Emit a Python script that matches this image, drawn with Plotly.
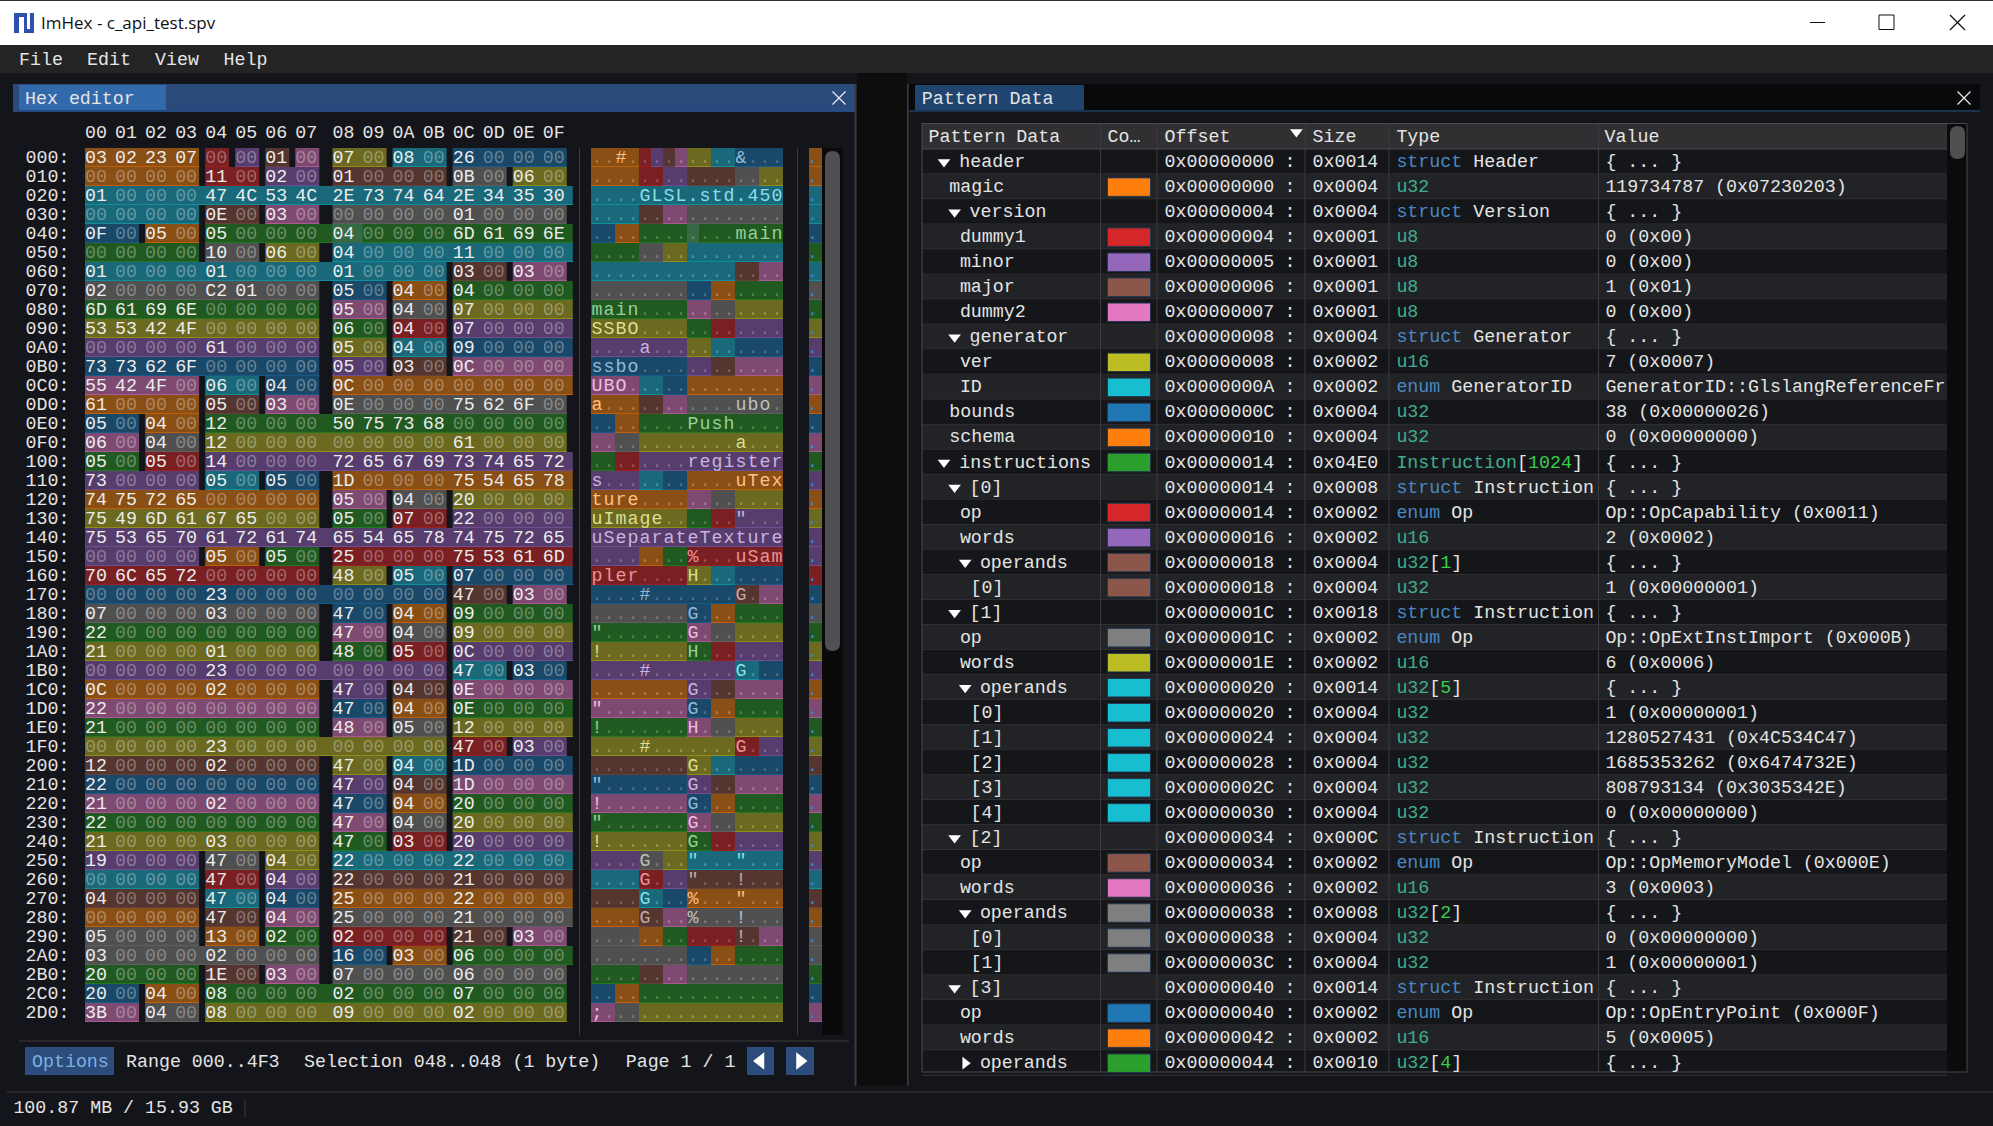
import plotly.graph_objects as go

# hex editor contents, one string per row
hex_rows = [
    "03 02 23 07 00 00 01 00 07 00 08 00 26 00 00 00",
    "00 00 00 00 11 00 02 00 01 00 00 00 0B 00 06 00",
    "01 00 00 00 47 4C 53 4C 2E 73 74 64 2E 34 35 30",
    "00 00 00 00 0E 00 03 00 00 00 00 00 01 00 00 00",
    "0F 00 05 00 05 00 00 00 04 00 00 00 6D 61 69 6E",
    "00 00 00 00 10 00 06 00 04 00 00 00 11 00 00 00",
    "01 00 00 00 01 00 00 00 01 00 00 00 03 00 03 00",
    "02 00 00 00 C2 01 00 00 05 00 04 00 04 00 00 00",
    "6D 61 69 6E 00 00 00 00 05 00 04 00 07 00 00 00",
    "53 53 42 4F 00 00 00 00 06 00 04 00 07 00 00 00",
    "00 00 00 00 61 00 00 00 05 00 04 00 09 00 00 00",
    "73 73 62 6F 00 00 00 00 05 00 03 00 0C 00 00 00",
    "55 42 4F 00 06 00 04 00 0C 00 00 00 00 00 00 00",
    "61 00 00 00 05 00 03 00 0E 00 00 00 75 62 6F 00",
    "05 00 04 00 12 00 00 00 50 75 73 68 00 00 00 00",
    "06 00 04 00 12 00 00 00 00 00 00 00 61 00 00 00",
    "05 00 05 00 14 00 00 00 72 65 67 69 73 74 65 72",
    "73 00 00 00 05 00 05 00 1D 00 00 00 75 54 65 78",
    "74 75 72 65 00 00 00 00 05 00 04 00 20 00 00 00",
    "75 49 6D 61 67 65 00 00 05 00 07 00 22 00 00 00",
    "75 53 65 70 61 72 61 74 65 54 65 78 74 75 72 65",
    "00 00 00 00 05 00 05 00 25 00 00 00 75 53 61 6D",
    "70 6C 65 72 00 00 00 00 48 00 05 00 07 00 00 00",
    "00 00 00 00 23 00 00 00 00 00 00 00 47 00 03 00",
    "07 00 00 00 03 00 00 00 47 00 04 00 09 00 00 00",
    "22 00 00 00 00 00 00 00 47 00 04 00 09 00 00 00",
    "21 00 00 00 01 00 00 00 48 00 05 00 0C 00 00 00",
    "00 00 00 00 23 00 00 00 00 00 00 00 47 00 03 00",
    "0C 00 00 00 02 00 00 00 47 00 04 00 0E 00 00 00",
    "22 00 00 00 00 00 00 00 47 00 04 00 0E 00 00 00",
    "21 00 00 00 00 00 00 00 48 00 05 00 12 00 00 00",
    "00 00 00 00 23 00 00 00 00 00 00 00 47 00 03 00",
    "12 00 00 00 02 00 00 00 47 00 04 00 1D 00 00 00",
    "22 00 00 00 00 00 00 00 47 00 04 00 1D 00 00 00",
    "21 00 00 00 02 00 00 00 47 00 04 00 20 00 00 00",
    "22 00 00 00 00 00 00 00 47 00 04 00 20 00 00 00",
    "21 00 00 00 03 00 00 00 47 00 03 00 20 00 00 00",
    "19 00 00 00 47 00 04 00 22 00 00 00 22 00 00 00",
    "00 00 00 00 47 00 04 00 22 00 00 00 21 00 00 00",
    "04 00 00 00 47 00 04 00 25 00 00 00 22 00 00 00",
    "00 00 00 00 47 00 04 00 25 00 00 00 21 00 00 00",
    "05 00 00 00 13 00 02 00 02 00 00 00 21 00 03 00",
    "03 00 00 00 02 00 00 00 16 00 03 00 06 00 00 00",
    "20 00 00 00 1E 00 03 00 07 00 00 00 06 00 00 00",
    "20 00 04 00 08 00 00 00 02 00 00 00 07 00 00 00",
    "3B 00 04 00 08 00 00 00 09 00 00 00 02 00 00 00",
]
# pattern colour of every byte, same order
color_rows = [
    "OOOORPBKYYTTLLLL", "OOOORRPPBBBBGGYY", "TTTTTTTTTTTTTTTT", "TTTTBBKKGGGGGGGG",
    "LLOONNNNNNNNNNNN", "NNNNGGYYTTTTTTTT", "TTTTTTTTTTTTBBKK", "GGGGGGGGLLOONNNN",
    "NNNNNNNNKKGGYYYY", "YYYYYYYYNNRRPPPP", "PPPPPPPPYYTTLLLL", "LLLLLLLLPPBBKKKK",
    "KKKKTTLLOOOOOOOO", "OOOOBBKKGGGGGGGG", "LLOONNNNNNNNNNNN", "KKGGYYYYYYYYYYYY",
    "NNRRPPPPPPPPPPPP", "PPPPTTLLOOOOOOOO", "OOOOOOOOKKGGYYYY", "YYYYYYYYNNRRPPPP",
    "PPPPPPPPPPPPPPPP", "PPPPOONNRRRRRRRR", "RRRRRRRRYYTTLLLL", "LLLLLLLLLLLLBBKK",
    "GGGGGGGGLLOONNNN", "NNNNNNNNKKGGYYYY", "YYYYYYYYNNRRPPPP", "PPPPPPPPPPPPTTLL",
    "OOOOOOOOPPBBKKKK", "KKKKKKKKLLOONNNN", "NNNNNNNNKKGGYYYY", "YYYYYYYYYYYYRRPP",
    "BBBBBBBBYYTTLLLL", "LLLLLLLLPPBBKKKK", "KKKKKKKKLLOONNNN", "NNNNNNNNKKGGYYYY",
    "YYYYYYYYNNRRPPPP", "PPPPGGYYTTTTTTTT", "TTTTRRPPBBBBBBBB", "BBBBTTLLOOOOOOOO",
    "OOOOBBKKGGGGGGGG", "GGGGOONNRRRRBBKK", "GGGGGGGGLLOONNNN", "NNNNBBKKGGGGGGGG",
    "LLOONNNNNNNNNNNN", "KKGGYYYYYYYYYYYY",
]
selected_byte = 0x48

dim_colors = {"O": "#8a4f14", "R": "#7a2023", "P": "#573d6e", "B": "#54352f", "K": "#7e4a72",
              "G": "#505050", "Y": "#6b6a20", "T": "#19697a", "L": "#1a4868", "N": "#215a20"}
full_colors = {"O": "#ff7f0e", "R": "#d62728", "P": "#9467bd", "B": "#8c564b", "K": "#e377c2",
               "G": "#7f7f7f", "Y": "#bcbd22", "T": "#17becf", "L": "#1f77b4", "N": "#2ca02c"}

# pattern data table
names = ["header", "magic", "version", "dummy1", "minor", "major", "dummy2", "generator", "ver", "ID",
         "bounds", "schema", "instructions", "[0]", "op", "words", "operands", "[0]", "[1]", "op",
         "words", "operands", "[0]", "[1]", "[2]", "[3]", "[4]", "[2]", "op", "words",
         "operands", "[0]", "[1]", "[3]", "op", "words", "operands"]
depths = [0, 1, 1, 2, 2, 2, 2, 1, 2, 2, 1, 1, 0, 1, 2, 2, 2, 3, 1, 2, 2, 2, 3, 3, 3, 3, 3, 1, 2, 2, 2, 3, 3, 1, 2, 2, 2]
arrows = "v.v....v....vv..v.v..v.....v..v..v..>"
swatches = ".O.RPBK.YTLON.RPB B.GYTTTTTT.BKGGG.LON".replace(" ", "")
offsets = [0x00, 0x00, 0x04, 0x04, 0x05, 0x06, 0x07, 0x08, 0x08, 0x0A, 0x0C, 0x10, 0x14, 0x14, 0x14, 0x16, 0x18, 0x18,
           0x1C, 0x1C, 0x1E, 0x20, 0x20, 0x24, 0x28, 0x2C, 0x30, 0x34, 0x34, 0x36, 0x38, 0x38, 0x3C, 0x40, 0x40, 0x42, 0x44]
sizes = [0x14, 0x04, 0x04, 0x01, 0x01, 0x01, 0x01, 0x04, 0x02, 0x02, 0x04, 0x04, 0x4E0, 0x08, 0x02, 0x02, 0x04, 0x04,
         0x18, 0x02, 0x02, 0x14, 0x04, 0x04, 0x04, 0x04, 0x04, 0x0C, 0x02, 0x02, 0x08, 0x04, 0x04, 0x14, 0x02, 0x02, 0x10]
types = ["struct Header", "u32", "struct Version", "u8", "u8", "u8", "u8", "struct Generator", "u16",
         "enum GeneratorID", "u32", "u32", "Instruction[1024]", "struct Instruction", "enum Op", "u16", "u32[1]", "u32",
         "struct Instruction", "enum Op", "u16", "u32[5]", "u32", "u32", "u32", "u32", "u32", "struct Instruction",
         "enum Op", "u16", "u32[2]", "u32", "u32", "struct Instruction", "enum Op", "u16", "u32[4]"]
values = ["{ ... }", "119734787 (0x07230203)", "{ ... }", "0 (0x00)", "0 (0x00)", "1 (0x01)", "0 (0x00)", "{ ... }",
          "7 (0x0007)", "GeneratorID::GlslangReferenceFr", "38 (0x00000026)", "0 (0x00000000)", "{ ... }", "{ ... }",
          "Op::OpCapability (0x0011)", "2 (0x0002)", "{ ... }", "1 (0x00000001)", "{ ... }",
          "Op::OpExtInstImport (0x000B)", "6 (0x0006)", "{ ... }", "1 (0x00000001)", "1280527431 (0x4C534C47)",
          "1685353262 (0x6474732E)", "808793134 (0x3035342E)", "0 (0x00000000)", "{ ... }",
          "Op::OpMemoryModel (0x000E)", "3 (0x0003)", "{ ... }", "0 (0x00000000)", "1 (0x00000001)", "{ ... }",
          "Op::OpEntryPoint (0x000F)", "5 (0x0005)", "{ ... }"]
header_labels = ["Pattern Data", "Co…", "Offset", "Size", "Type", "Value"]
menu_labels = ["File", "Edit", "View", "Help"]

W, H = 1993, 1126
MONO = "Liberation Mono"
FS = 18.3
BG = "#14151a"
LINE = "#3a3b3f"
WHITE = "#e4e4e4"


def byte_x(i):
    return 85 + 30.04 * i + (7.2 if i >= 8 else 0)


def row_top(r):
    return 148 + 19 * r


def table_y(i):
    return 161.6 + 25.03 * i


def mix(c, t, a=0.5):
    rgb = [int(c[k:k + 2], 16) for k in (1, 3, 5)]
    rgb = [round(v + (t - v) * a) for v in rgb]
    return "rgb(%d,%d,%d)" % tuple(rgb)


def runs(s):
    out, start = [], 0
    for i in range(1, len(s) + 1):
        if i == len(s) or s[i] != s[start]:
            out.append((start, i - 1, s[start]))
            start = i
    return out


fig = go.Figure()
shapes = []


def rect(x0, y0, x1, y1, color):
    shapes.append(dict(type="rect", x0=x0, y0=y0, x1=x1, y1=y1, fillcolor=color, line_width=0, layer="below"))


def line(x0, y0, x1, y1, color=LINE, width=1):
    shapes.append(dict(type="line", x0=x0, y0=y0, x1=x1, y1=y1, line=dict(color=color, width=width), layer="below"))


def pill(x0, y0, x1, y1, color):
    r = (x1 - x0) / 2
    path = f"M {x0} {y0 + r} Q {x0} {y0} {x0 + r} {y0} Q {x1} {y0} {x1} {y0 + r} L {x1} {y1 - r} Q {x1} {y1} {x0 + r} {y1} Q {x0} {y1} {x0} {y1 - r} Z"
    shapes.append(dict(type="path", path=path, fillcolor=color, line_width=0, layer="below"))


def add_text(xs, ys, texts, colors=WHITE, pos="middle right", family=MONO, size=FS):
    fig.add_trace(go.Scatter(x=xs, y=ys, text=texts, mode="text", textposition=pos, hoverinfo="skip",
                             textfont=dict(family=family, size=size, color=colors)))


def add_cross(cx, cy, r, color):
    line(cx - r, cy - r, cx + r, cy + r, color, 1.2)
    line(cx - r, cy + r, cx + r, cy - r, color, 1.2)


# window chrome
rect(0, 0, W, H, BG)
rect(0, 0, W, 45, "#ffffff")
line(0, 0.5, W, 0.5, "#303030", 1)
rect(0, 45, W, 73, "#242424")
rect(14, 13, 34, 33, "#2d50b0")
rect(19, 17, 24, 33, "#ffffff")
rect(27, 13, 30, 29, "#ffffff")
line(1810, 22.5, 1825, 22.5, "#111111", 1)
shapes.append(dict(type="rect", x0=1879, y0=15, x1=1894, y1=29.5, line=dict(color="#111111", width=1), layer="below"))
add_cross(1957.5, 22.5, 7.5, "#111111")

# hex editor panel
rect(13, 84, 855, 112, "#2a4a7c")
rect(19, 85, 166, 110, "#3269ab")
line(13, 111, 855, 111, "#24497f", 2)
add_cross(839, 98, 6.5, "#e8e8e8")
line(855.5, 84, 855.5, 1086, "#3a3b40", 2)
line(907.5, 84, 907.5, 1086, "#3a3b40", 2)
rect(857, 73, 907, 1086, "#0d0d0e")
line(579.5, 148, 579.5, 1035)
line(797.5, 148, 797.5, 1035)
rect(822, 148, 843, 1035, "#0a0a0b")
pill(825, 151, 840, 651, "#505052")
line(19, 1041, 849, 1041)
rect(25, 1047, 114, 1075, "#2c4c7c")
rect(747, 1047, 774, 1075, "#2c4c7c")
rect(786, 1047, 814, 1075, "#2c4c7c")
line(7, 1092, W, 1092)
line(245, 1100, 245, 1118)

# pattern data panel
rect(909, 84, 1980, 112, "#08090a")
rect(915, 85, 1084, 110, "#1f4470")
line(909, 111, 1980, 111, "#1c3350", 2)
add_cross(1964, 98, 6.5, "#e8e8e8")
rect(922, 123, 1947, 149, "#303033")
for i in range(len(names)):
    rect(922, table_y(i) - 12.5, 1947, min(table_y(i) + 12.5, 1072), "#222326" if i % 2 else "#15161a")
    line(922, table_y(i) + 12.5, 1947, table_y(i) + 12.5)
rect(1947, 123, 1967, 1072, "#0b0b0d")
pill(1950, 126, 1965, 159, "#505052")
for x in [1100.5, 1157, 1305, 1389, 1598.5]:
    line(x, 123, x, 1072)
shapes.append(dict(type="rect", x0=922, y0=123.5, x1=1967, y1=1072, line=dict(color="#48494d", width=1), layer="below"))
line(922, 149, 1947, 149, "#48494d")

# hex and ascii cell backgrounds
bar_x, bar_base, bar_y, bar_h, bar_c = [], [], [], [], []
edge_x, edge_base, edge_y, edge_c = [], [], [], []


def add_bar(x0, x1, r, key, color=None):
    c = color or dim_colors[key]
    bar_x.append(x1 - x0)
    bar_base.append(x0)
    bar_y.append(row_top(r) + 9.5)
    bar_h.append(19)
    bar_c.append(c)
    edge_x.append(x1 - x0)
    edge_base.append(x0)
    edge_y.append(row_top(r) + 18.5)
    edge_c.append(color or mix(full_colors[key], 0, 0.25))


for r, cols in enumerate(color_rows):
    for a, b, key in runs(cols):
        x1 = byte_x(b) + 24
        if b == 15 and r + 1 < len(color_rows) and color_rows[r + 1][0] == key:
            x1 += 6
        add_bar(byte_x(a), x1, r, key)
        add_bar(591 + 12 * a, 591 + 12 * (b + 1), r, key)
    add_bar(809, 822, r, cols[0])
sel_r, sel_c = selected_byte // 16, selected_byte % 16
add_bar(byte_x(sel_c), byte_x(sel_c) + 30, sel_r, "N", "#356a45")
add_bar(591 + 12 * sel_c, 603 + 12 * sel_c, sel_r, "N", "#356a45")

fig.add_trace(go.Bar(x=bar_x, base=bar_base, y=bar_y, width=bar_h, orientation="h", hoverinfo="skip",
                     marker=dict(color=bar_c, line_width=0)))
fig.add_trace(go.Bar(x=edge_x, base=edge_base, y=edge_y, width=[1] * len(edge_x), orientation="h", hoverinfo="skip",
                     marker=dict(color=edge_c, line_width=0)))

# colour swatches in the table
sw_idx = [i for i, k in enumerate(swatches) if k != "."]
fig.add_trace(go.Bar(x=[43] * len(sw_idx), base=[1107.5] * len(sw_idx), y=[table_y(i) + 0.5 for i in sw_idx],
                     width=[18.5] * len(sw_idx), orientation="h", hoverinfo="skip",
                     marker=dict(color=[full_colors[swatches[i]] for i in sw_idx],
                                 line=dict(color="#25364e", width=1))))

# hex text
hx, hy, ht, hc = [], [], [], []
ax, ay, at, ac = [], [], [], []
for r, row in enumerate(hex_rows):
    for c, cell in enumerate(row.split()):
        hx.append(byte_x(c) + 11)
        hy.append(row_top(r) + 10.5)
        ht.append(cell)
        v = int(cell, 16)
        hc.append("#ececec" if v else "rgba(255,255,255,0.33)")
        tint = mix(full_colors[color_rows[r][c]], 255, 0.5)
        printable = 0x21 <= v < 0x7f
        ax.append(591 + 12 * c + 6)
        ay.append(row_top(r) + 10.5)
        at.append(chr(v) if printable else ".")
        ac.append(tint if printable else tint.replace("rgb", "rgba").replace(")", ",0.38)"))
add_text(hx, hy, ht, hc, "middle center")
add_text(ax, ay, at, ac, "middle center")
add_text([812.5] * len(hex_rows), [row_top(r) + 10.5 for r in range(len(hex_rows))], ["."] * len(hex_rows),
         "#2f86d0", "middle center")
add_text([byte_x(c) + 11 for c in range(16)], [133] * 16, ["%02X" % c for c in range(16)], WHITE, "middle center")
add_text([25.5] * len(hex_rows), [row_top(r) + 10.5 for r in range(len(hex_rows))],
         ["%03X:" % (r * 16) for r in range(len(hex_rows))])

# table text
text_y = [table_y(i) + 1 for i in range(len(names))]
name_x = [943 + 16.3 + 10.3 * d if arrows[i] != "." else 949.3 + 10.6 * (d - 1) for i, d in enumerate(depths)]
add_text(name_x, text_y, names)
add_text([1164.6] * len(names), text_y, ["0x%08X" % v for v in offsets])
add_text([1290] * len(names), text_y, [":"] * len(names), WHITE, "middle center")
add_text([1312.5] * len(names), text_y, ["0x%04X" % v for v in sizes])


def type_label(t):
    if " " in t:
        kw, rest = t.split(" ", 1)
        return f'<span style="color:#4a87c0">{kw}</span> {rest}'
    if "[" in t:
        head, n = t[:-1].split("[")
        return f'<span style="color:#3fae8e">{head}</span>[<span style="color:#35d04a">{n}</span>]'
    return f'<span style="color:#3fae8e">{t}</span>'


add_text([1396.4] * len(names), text_y, [type_label(t) for t in types])
add_text([1605.4] * len(names), text_y, values)

down = [i for i, k in enumerate(arrows) if k == "v"]
right = [i for i, k in enumerate(arrows) if k == ">"]
fig.add_trace(go.Scatter(x=[944 + 10.6 * depths[i] for i in down] + [1296.4], y=[table_y(i) + 0.5 for i in down] + [132],
                         mode="markers", hoverinfo="skip",
                         marker=dict(symbol="triangle-down", size=11, color="#ffffff", line_width=0)))
fig.add_trace(go.Scatter(x=[944 + 10.6 * depths[i] for i in right], y=[table_y(i) + 0.5 for i in right],
                         mode="markers", hoverinfo="skip",
                         marker=dict(symbol="triangle-right", size=11, color="#ffffff", line_width=0)))
fig.add_trace(go.Scatter(x=[760.5], y=[1061], mode="markers", hoverinfo="skip",
                         marker=dict(symbol="triangle-left", size=15, color="#ffffff", line_width=0)))
fig.add_trace(go.Scatter(x=[800], y=[1061], mode="markers", hoverinfo="skip",
                         marker=dict(symbol="triangle-right", size=15, color="#ffffff", line_width=0)))

# labels around the panels
add_text([928.6, 1107.5, 1164.6, 1312.5, 1396.4, 1604.6], [137] * 6, header_labels)
add_text([19, 87, 155, 223.5], [60] * 4, menu_labels)
add_text([25], [99], ["Hex editor"])
add_text([921.8], [99], ["Pattern Data"])
add_text([32], [1062], ["Options"], "#7fb2e0")
add_text([126, 304, 625.7], [1062] * 3, ["Range 000..4F3", "Selection 048..048 (1 byte)", "Page 1 / 1"])
add_text([13.4], [1108], ["100.87 MB / 15.93 GB"])
add_text([41], [25], ["ImHex - c_api_test.spv"], "#111111", family="Open Sans", size=17)

fig.update_layout(
    width=W, height=H, autosize=False, margin=dict(l=0, r=0, t=0, b=0, pad=0),
    paper_bgcolor=BG, plot_bgcolor=BG, showlegend=False, barmode="overlay", hovermode=False,
    xaxis=dict(range=[0, W], visible=False, fixedrange=True),
    yaxis=dict(range=[H, 0], visible=False, fixedrange=True),
    shapes=shapes,
)

fig.write_html("out.html", config=dict(displayModeBar=False),
               post_script="document.body.style.margin='0';document.body.style.overflow='hidden';")
